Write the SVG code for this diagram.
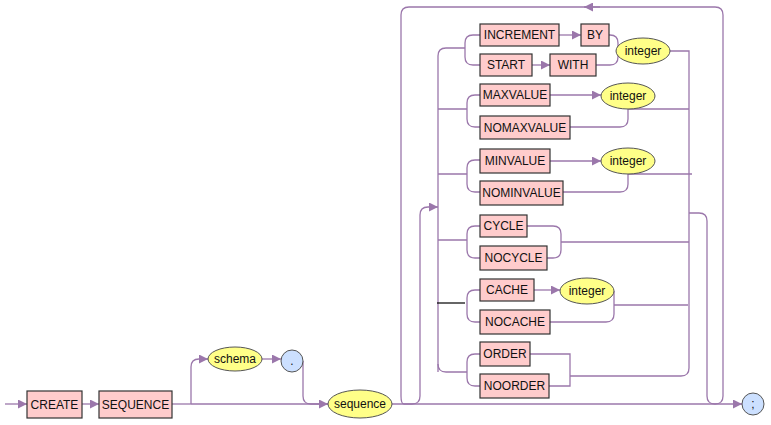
<svg xmlns="http://www.w3.org/2000/svg" width="771" height="425" viewBox="0 0 771 425">
<defs>
<marker id="a" viewBox="0 0 10 10" refX="10" refY="5" markerWidth="9" markerHeight="9" markerUnits="userSpaceOnUse" orient="auto"><path d="M0,0L10,5L0,10z" fill="#9b77ab"/></marker>
<style>
.l{fill:none;stroke:#9b77ab;stroke-width:1.3}
.k rect{fill:#ffcccc;stroke:#333;stroke-width:1.2}
.n ellipse{fill:#ffff88;stroke:#555;stroke-width:1}
.c circle{fill:#cce0ff;stroke:#555;stroke-width:1}
text{font-family:"Liberation Sans",Arial,sans-serif;font-size:12px;fill:#111;text-anchor:middle;dominant-baseline:central}
</style>
</defs>
<rect width="771" height="425" fill="#fff"/>
<g id="connectors" class="l">
<path d="M5,404H27" marker-end="url(#a)"/>
<path d="M82,404H99" marker-end="url(#a)"/>
<path d="M172,404H191"/>
<path d="M191,404V367q0,-8 8,-8H208" marker-end="url(#a)"/>
<path d="M262,359H281" marker-end="url(#a)"/>
<path d="M303,361V396q0,8 8,8H328" marker-end="url(#a)"/>
<path d="M191,404H328"/>
<path d="M392,404H742" marker-end="url(#a)"/>
<path d="M404,404q-3,0 -3,-8V15q0,-8 8,-8H715q8,0 8,8V396q0,8 -8,8"/>
<path d="M600,7H584" marker-end="url(#a)"/>
<path d="M404,404h8q8,0 8,-8V215q0,-8 8,-8h10" marker-end="url(#a)"/>
<path d="M438,372V56q0,-8 8,-8H465"/>
<path d="M465,48V43q0,-8 8,-8h7M465,48V57q0,8 8,8h7"/>
<path d="M559,35H581" marker-end="url(#a)"/>
<path d="M532,65H550" marker-end="url(#a)"/>
<path d="M609,35h1q8,0 8,8V51M596,65h14q8,0 8,-8V51H616" marker-end="url(#a)"/>
<path d="M670,51H689V368q0,8 -8,8H570"/>
<path d="M689,213h10q8,0 8,8V396q0,8 8,8"/>
<path d="M438,109H467M467,109V103q0,-8 8,-8h5M467,109V119q0,8 8,8h5"/>
<path d="M550,95H601" marker-end="url(#a)"/>
<path d="M655,96h-27M628,96V119q0,8 -8,8H570M628,109H689"/>
<path d="M438,174H467M467,174V168q0,-8 8,-8h5M467,174V184q0,8 8,8h5"/>
<path d="M550,161H601" marker-end="url(#a)"/>
<path d="M628,161V184q0,8 -8,8H563M628,174H692"/>
<path d="M438,240H467M467,240V234q0,-8 8,-8h5M467,240V250q0,8 8,8h5"/>
<path d="M527,226h26q8,0 8,8V250q0,8 -8,8H547M561,242H689"/>
<path d="M467,303V298q0,-8 8,-8h5M467,303V314q0,8 8,8h5"/>
<path d="M534,290H560" marker-end="url(#a)"/>
<path d="M614,291V314q0,8 -8,8H550M614,305H688"/>
<path d="M438,364q0,8 8,8H467M467,372V362q0,-8 8,-8h5M467,372V378q0,8 8,8h5"/>
<path d="M530,354H570V386H549"/>
</g>
<path d="M437,303H465" stroke="#000" stroke-width="1.2"/>
<g id="create" class="k"><rect x="27" y="391" width="55" height="27"/><text x="54.5" y="405">CREATE</text></g>
<g id="sequence-kw" class="k"><rect x="99" y="391" width="73" height="27"/><text x="135.5" y="405">SEQUENCE</text></g>
<g id="schema" class="n"><ellipse cx="235" cy="359" rx="27" ry="12"/><text x="235" y="359">schema</text></g>
<g id="dot" class="c"><circle cx="292" cy="361" r="11"/><text x="292" y="361">.</text></g>
<g id="sequence" class="n"><ellipse cx="360" cy="404" rx="32" ry="14"/><text x="360" y="404">sequence</text></g>
<g id="semi" class="c"><circle cx="753" cy="404" r="11"/><text x="753" y="404">;</text></g>
<g id="increment" class="k"><rect x="480" y="24" width="79" height="22"/><text x="519.5" y="35">INCREMENT</text></g>
<g id="by" class="k"><rect x="581" y="24" width="28" height="22"/><text x="595" y="35">BY</text></g>
<g id="start" class="k"><rect x="480" y="54" width="52" height="22"/><text x="506" y="65">START</text></g>
<g id="with" class="k"><rect x="550" y="54" width="46" height="22"/><text x="573" y="65">WITH</text></g>
<g id="int1" class="n"><ellipse cx="643" cy="51" rx="27" ry="13"/><text x="643" y="51">integer</text></g>
<g id="maxvalue" class="k"><rect x="480" y="84" width="70" height="22"/><text x="515" y="95">MAXVALUE</text></g>
<g id="int2" class="n"><ellipse cx="628" cy="96" rx="27" ry="13"/><text x="628" y="96">integer</text></g>
<g id="nomaxvalue" class="k"><rect x="480" y="116" width="90" height="23"/><text x="525" y="127.5">NOMAXVALUE</text></g>
<g id="minvalue" class="k"><rect x="480" y="149" width="70" height="24"/><text x="515" y="161">MINVALUE</text></g>
<g id="int3" class="n"><ellipse cx="628" cy="161" rx="27" ry="13"/><text x="628" y="161">integer</text></g>
<g id="nominvalue" class="k"><rect x="480" y="181" width="83" height="24"/><text x="521.5" y="193">NOMINVALUE</text></g>
<g id="cycle" class="k"><rect x="480" y="215" width="47" height="22"/><text x="503.5" y="226">CYCLE</text></g>
<g id="nocycle" class="k"><rect x="480" y="246" width="67" height="24"/><text x="513.5" y="258">NOCYCLE</text></g>
<g id="cache" class="k"><rect x="480" y="279" width="54" height="22"/><text x="507" y="290">CACHE</text></g>
<g id="int4" class="n"><ellipse cx="587" cy="291" rx="27" ry="13"/><text x="587" y="291">integer</text></g>
<g id="nocache" class="k"><rect x="480" y="310" width="70" height="24"/><text x="515" y="322">NOCACHE</text></g>
<g id="order" class="k"><rect x="480" y="342" width="50" height="24"/><text x="505" y="354">ORDER</text></g>
<g id="noorder" class="k"><rect x="480" y="374" width="69" height="24"/><text x="514.5" y="386">NOORDER</text></g>
</svg>
